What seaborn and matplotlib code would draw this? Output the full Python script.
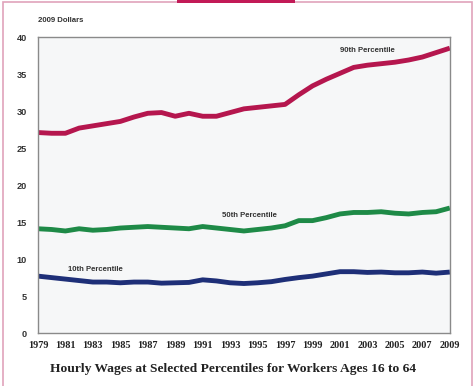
import numpy as np
import pandas as pd
import matplotlib
matplotlib.use("Agg")
import matplotlib.pyplot as plt
from matplotlib.patches import Rectangle
import seaborn as sns

years = list(range(1979, 2010))
p90 = [27.1, 27.0, 27.0, 27.7, 28.0, 28.3, 28.6, 29.2, 29.7, 29.8, 29.3, 29.7, 29.3, 29.3, 29.8,
       30.3, 30.5, 30.7, 30.9, 32.2, 33.4, 34.3, 35.1, 35.9, 36.2, 36.4, 36.6, 36.9, 37.3, 37.9, 38.5]
p50 = [14.1, 14.0, 13.8, 14.1, 13.9, 14.0, 14.2, 14.3, 14.4, 14.3, 14.2, 14.1, 14.4, 14.2, 14.0,
       13.8, 14.0, 14.2, 14.5, 15.2, 15.2, 15.6, 16.1, 16.3, 16.3, 16.4, 16.2, 16.1, 16.3, 16.4, 16.9]
p10 = [7.7, 7.5, 7.3, 7.1, 6.9, 6.9, 6.8, 6.9, 6.9, 6.75, 6.8, 6.85, 7.2, 7.05, 6.8,
       6.7, 6.8, 6.95, 7.25, 7.5, 7.7, 8.0, 8.3, 8.3, 8.2, 8.25, 8.15, 8.15, 8.25, 8.1, 8.25]
series_names = ["90th Percentile", "50th Percentile", "10th Percentile"]
xticks = list(range(1979, 2010, 2))
yticks = [0, 5, 10, 15, 20, 25, 30, 35, 40]
title = "Hourly Wages at Selected Percentiles for Workers Ages 16 to 64"
unit_label = "2009 Dollars"

df = pd.DataFrame({
    "year": years * 3,
    "wage": p90 + p50 + p10,
    "series": [series_names[0]] * len(years) + [series_names[1]] * len(years) + [series_names[2]] * len(years),
})

sns.set_theme(style="white")
plt.rcParams["font.family"] = ["Liberation Sans", "DejaVu Sans"]

fig = plt.figure(figsize=(4.74, 3.86), dpi=100)
ax = fig.add_axes([0.080, 0.137, 0.869, 0.767])
ax.set_facecolor("#f6f7f8")

palette = {series_names[0]: "#b5164e", series_names[1]: "#1e8a47", series_names[2]: "#1e2f78"}
sns.lineplot(data=df, x="year", y="wage", hue="series", palette=palette, linewidth=3.5,
             legend=False, ax=ax, solid_capstyle="butt")

ax.set_xlim(1979, 2009)
ax.set_ylim(0, 40)
ax.set_xticks(xticks)
ax.set_yticks(yticks)
ax.set_xlabel("")
ax.set_ylabel("")
for s in ax.spines.values():
    s.set_color("#8a8a8a")
    s.set_linewidth(1.0)
ax.tick_params(axis="both", direction="in", length=5, width=0.8, color="#8a8a8a")
ax.tick_params(axis="y", pad=8)
ax.tick_params(axis="x", pad=6)
for lbl in ax.get_yticklabels():
    lbl.set_fontsize(6.6)
    lbl.set_fontweight("bold")
    lbl.set_color("#333333")
for lbl in ax.get_xticklabels():
    lbl.set_fontsize(7.4)
    lbl.set_fontweight("bold")
    lbl.set_color("#222222")
    lbl.set_family("Liberation Serif")

txt = dict(fontsize=5.6, fontweight="bold", color="#333333", ha="center", va="center")
ax.text(2003.0, 38.2, series_names[0], **txt)
ax.text(1994.4, 15.95, series_names[1], **txt)
ax.text(1983.15, 8.65, series_names[2], **txt)

fig.text(38 / 474, 1 - 20 / 386, unit_label, fontsize=5.6, fontweight="bold", color="#333333", ha="left", va="center")
fig.text(233 / 474, 1 - 369 / 386, title, fontsize=9.7, fontweight="bold", color="#222222",
         ha="center", va="center", family="Liberation Serif")

# page frame
fig.add_artist(Rectangle((3 / 474, -0.01), (472 - 3) / 474, 1.005, transform=fig.transFigure,
                         fill=False, edgecolor="#e0a3bb", linewidth=1.2))
fig.add_artist(Rectangle((177 / 474, 1 - 3 / 386), (295 - 177) / 474, 3 / 386, transform=fig.transFigure,
                         facecolor="#c21a57", edgecolor="none"))

fig.savefig("out.png", dpi=100)
